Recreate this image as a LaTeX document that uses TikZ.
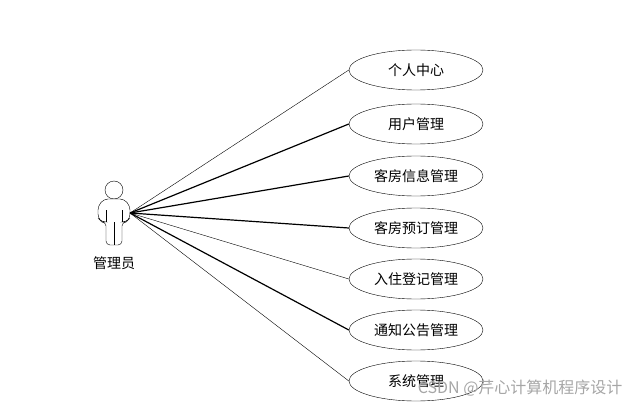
\documentclass[tikz,border=0pt]{standalone}
\usepackage{fontspec}
\usetikzlibrary{shapes.geometric}
\setmainfont{Noto Sans CJK SC}
\begin{document}
\begin{tikzpicture}[x=1pt,y=-1pt,font=\fontsize{14}{16}\selectfont]
\tikzset{usecase/.style={draw,ellipse,minimum width=134pt,minimum height=40pt,inner sep=0pt}}
\useasboundingbox (0,0) rectangle (640,409);
% actor
\draw[fill=white] (114,190) circle (9);
\draw[fill=white,rounded corners=4] (106,245) -- (106,222) -- (102,222) -- (98,218) -- (98,206) -- (104,199) -- (124,199) -- (130,206) -- (130,218) -- (126,222) -- (122,222) -- (122,245) -- cycle;
\draw (114,222) -- (114,245);
\draw (106,222) -- (106,210) (122,222) -- (122,210);
\node (admin) at (114,263) {管理员};
\coordinate (hand) at (130,213);
% use cases
\node[usecase] (u1) at (416,70) {个人中心};
\node[usecase] (u2) at (416,124) {用户管理};
\node[usecase] (u3) at (416,176) {客房信息管理};
\node[usecase] (u4) at (416,228) {客房预订管理};
\node[usecase] (u5) at (416,279) {入住登记管理};
\node[usecase] (u6) at (416,330) {通知公告管理};
\node[usecase] (u7) at (416,381) {系统管理};
\foreach \u in {u1,u5,u7}
  \draw[thin] (hand) -- (\u.west);
\foreach \u in {u2,u3,u4,u6}
  \draw[line width=1.2pt] (hand) -- (\u.west);
\node[gray!70,font=\fontsize{16}{18}\selectfont,anchor=east] (mark) at (626,388) {CSDN @芹心计算机程序设计};
\end{tikzpicture}
\end{document}
